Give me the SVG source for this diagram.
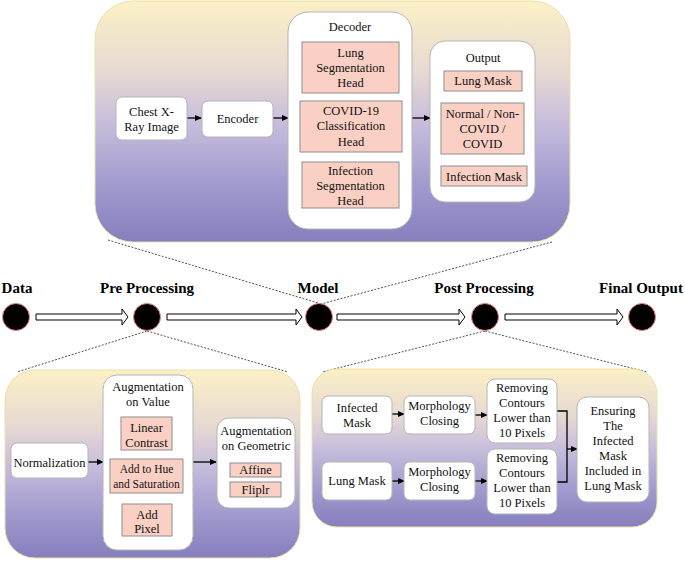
<svg xmlns="http://www.w3.org/2000/svg" width="685" height="564" viewBox="0 0 685 564" font-family="'Liberation Serif', 'DejaVu Serif', 'Times New Roman', serif">
<defs>
<linearGradient id="pg" x1="0" y1="0" x2="0" y2="1">
<stop offset="0" stop-color="#fcf0c6"/>
<stop offset="0.3" stop-color="#e6d9d3"/>
<stop offset="0.5" stop-color="#c8bedc"/>
<stop offset="0.75" stop-color="#a39ccf"/>
<stop offset="1" stop-color="#857fbd"/>
</linearGradient>
<marker id="ah" markerUnits="userSpaceOnUse" markerWidth="7" markerHeight="6" refX="6" refY="3" orient="auto">
<path d="M0,0 L7,3 L0,6 Z" fill="#000"/>
</marker>
<style>
text{font-family:'Liberation Serif','DejaVu Serif','Times New Roman',serif;font-size:12.5px;fill:#111;text-anchor:middle}
.title{font-weight:bold;font-size:15px;fill:#000}
.small{font-size:11.5px}
.panel{fill:url(#pg);stroke:#ece0a8;stroke-width:1}
.wb{fill:#fff;stroke:#b5b5b5;stroke-width:1}
.pk{fill:#fbd0c4;stroke:#8e8e8e;stroke-width:1}
.ar{stroke:#000;stroke-width:1.3;fill:none;marker-end:url(#ah)}
.ln{stroke:#000;stroke-width:1.3;fill:none}
.dot{stroke:#555;stroke-width:1;stroke-dasharray:2 1.5;fill:none}
.stage{fill:#000;stroke:#f08080;stroke-width:1}
.big{fill:#fff;stroke:#000;stroke-width:1}
</style>
</defs>

<g id="connectors">
<line class="dot" x1="108" y1="240" x2="318" y2="303"/>
<line class="dot" x1="552" y1="242" x2="321" y2="304"/>
<line class="dot" x1="147" y1="331" x2="17" y2="372"/>
<line class="dot" x1="147" y1="331" x2="288" y2="372"/>
<line class="dot" x1="485" y1="331" x2="322" y2="372"/>
<line class="dot" x1="485" y1="331" x2="647" y2="372"/>
<polygon class="big" points="36,314 122,314 122,309 128,317 122,325 122,320 36,320"/>
<polygon class="big" points="167,314 296,314 296,309 302,317 296,325 296,320 167,320"/>
<polygon class="big" points="337,314 459,314 459,309 465,317 459,325 459,320 337,320"/>
<polygon class="big" points="505,314 617,314 617,309 623,317 617,325 617,320 505,320"/>
</g>

<g id="model-panel">
<rect class="panel" x="95" y="1" width="475" height="241" rx="38"/>
</g>
<g id="pre-panel">
<rect class="panel" x="5" y="370" width="295" height="188" rx="30"/>
</g>
<g id="post-panel">
<rect class="panel" x="312" y="369" width="345" height="158" rx="25"/>
</g>

<g id="model-connectors">
<line class="ar" x1="187" y1="118" x2="201" y2="118"/>
<line class="ar" x1="273" y1="118" x2="288" y2="118"/>
<line class="ar" x1="412" y1="118" x2="430" y2="118"/>
</g>

<g id="chest">
<rect class="wb" x="116" y="97" width="71" height="43" rx="6"/>
<text x="151.5" y="116">Chest X-</text>
<text x="151.5" y="131">Ray Image</text>
</g>
<g id="encoder">
<rect class="wb" x="202" y="101" width="71" height="36" rx="6"/>
<text x="237.5" y="123">Encoder</text>
</g>
<g id="decoder">
<rect class="wb" x="288" y="12" width="124" height="217" rx="20"/>
<text x="350" y="30.5">Decoder</text>
</g>
<g id="lung-head">
<rect class="pk" x="302" y="42" width="97" height="51"/>
<text x="350.5" y="57">Lung</text>
<text x="350.5" y="72">Segmentation</text>
<text x="350.5" y="86.5">Head</text>
</g>
<g id="covid-head">
<rect class="pk" x="300" y="101" width="102" height="51"/>
<text x="351" y="114.5">COVID-19</text>
<text x="351" y="130">Classification</text>
<text x="351" y="146">Head</text>
</g>
<g id="infection-head">
<rect class="pk" x="302" y="162" width="97" height="46"/>
<text x="350.5" y="174.5">Infection</text>
<text x="350.5" y="189.5">Segmentation</text>
<text x="350.5" y="204.5">Head</text>
</g>
<g id="output">
<rect class="wb" x="430" y="41" width="105" height="161" rx="15"/>
<text x="483" y="61.5">Output</text>
</g>
<g id="lung-mask-out">
<rect class="pk" x="444" y="71" width="78" height="20"/>
<text x="483" y="85">Lung Mask</text>
</g>
<g id="class-out">
<rect class="pk" x="441" y="103" width="83" height="51"/>
<text x="482.5" y="117.5">Normal / Non-</text>
<text x="482.5" y="132.5">COVID /</text>
<text x="482.5" y="147.5">COVID</text>
</g>
<g id="infection-mask-out">
<rect class="pk" x="441" y="166" width="86" height="20"/>
<text x="484" y="180.5">Infection Mask</text>
</g>

<g id="data"><circle class="stage" cx="16" cy="317" r="13.5"/><text class="title" x="17" y="293">Data</text></g>
<g id="pre"><circle class="stage" cx="147" cy="317" r="13.5"/><text class="title" x="147" y="293">Pre Processing</text></g>
<g id="model"><circle class="stage" cx="319" cy="317" r="13.5"/><text class="title" x="318" y="293">Model</text></g>
<g id="post"><circle class="stage" cx="485" cy="317" r="13.5"/><text class="title" x="484" y="293">Post Processing</text></g>
<g id="final"><circle class="stage" cx="642" cy="317" r="13.5"/><text class="title" x="641" y="293">Final Output</text></g>

<g id="pre-connectors">
<line class="ar" x1="88" y1="462" x2="103" y2="462"/>
<line class="ar" x1="193" y1="462" x2="216" y2="462"/>
</g>
<g id="normalization">
<rect class="wb" x="11" y="443" width="77" height="35" rx="6"/>
<text x="49.5" y="466.5">Normalization</text>
</g>
<g id="aug-value">
<rect class="wb" x="103" y="375" width="90" height="175" rx="14"/>
<text x="148" y="391">Augmentation</text>
<text x="148" y="406">on Value</text>
</g>
<g id="linear">
<rect class="pk" x="121" y="417" width="51" height="33"/>
<text x="146.5" y="431.5">Linear</text>
<text x="146.5" y="447">Contrast</text>
</g>
<g id="hue">
<rect class="pk" x="110" y="459" width="73" height="34"/>
<text class="small" x="146.5" y="472.5">Add to Hue</text>
<text class="small" x="146.5" y="487.5">and Saturation</text>
</g>
<g id="addpixel">
<rect class="pk" x="122" y="504" width="50" height="32"/>
<text x="147" y="518.5">Add</text>
<text x="147" y="533">Pixel</text>
</g>
<g id="aug-geo">
<rect class="wb" x="217" y="418" width="78" height="90" rx="12"/>
<text x="256" y="435">Augmentation</text>
<text x="256" y="449.5">on Geometric</text>
</g>
<g id="affine">
<rect class="pk" x="230" y="463" width="51" height="14"/>
<text x="255.5" y="474">Affine</text>
</g>
<g id="fliplr">
<rect class="pk" x="230" y="482" width="51" height="15"/>
<text x="255.5" y="494">Fliplr</text>
</g>

<g id="post-connectors">
<line class="ar" x1="392" y1="414" x2="404" y2="414"/>
<line class="ar" x1="475" y1="415" x2="487" y2="415"/>
<line class="ar" x1="392" y1="481" x2="404" y2="481"/>
<line class="ar" x1="475" y1="481" x2="487" y2="481"/>
<polyline class="ln" points="557,411 567,411 567,482 557,482"/>
<line class="ar" x1="567" y1="449" x2="577" y2="449"/>
</g>
<g id="infected-mask">
<rect class="wb" x="322" y="396" width="70" height="38" rx="6"/>
<text x="357" y="411.5">Infected</text>
<text x="357" y="426.5">Mask</text>
</g>
<g id="morph1">
<rect class="wb" x="404" y="396" width="71" height="38" rx="6"/>
<text x="439.5" y="410">Morphology</text>
<text x="439.5" y="425">Closing</text>
</g>
<g id="remove1">
<rect class="wb" x="487" y="379" width="70" height="64" rx="8"/>
<text x="522" y="391.5">Removing</text>
<text x="522" y="406.5">Contours</text>
<text x="522" y="422">Lower than</text>
<text x="522" y="437">10 Pixels</text>
</g>
<g id="lung-mask">
<rect class="wb" x="322" y="462" width="70" height="38" rx="6"/>
<text x="357" y="485">Lung Mask</text>
</g>
<g id="morph2">
<rect class="wb" x="404" y="462" width="71" height="38" rx="6"/>
<text x="439.5" y="476">Morphology</text>
<text x="439.5" y="491">Closing</text>
</g>
<g id="remove2">
<rect class="wb" x="487" y="449" width="70" height="65" rx="8"/>
<text x="522" y="461.5">Removing</text>
<text x="522" y="476.5">Contours</text>
<text x="522" y="491.5">Lower than</text>
<text x="522" y="506.5">10 Pixels</text>
</g>
<g id="ensuring">
<rect class="wb" x="577" y="397" width="72" height="105" rx="10"/>
<text x="613" y="415">Ensuring</text>
<text x="613" y="430">The</text>
<text x="613" y="445">Infected</text>
<text x="613" y="460">Mask</text>
<text x="613" y="475">Included in</text>
<text x="613" y="490">Lung Mask</text>
</g>
</svg>
